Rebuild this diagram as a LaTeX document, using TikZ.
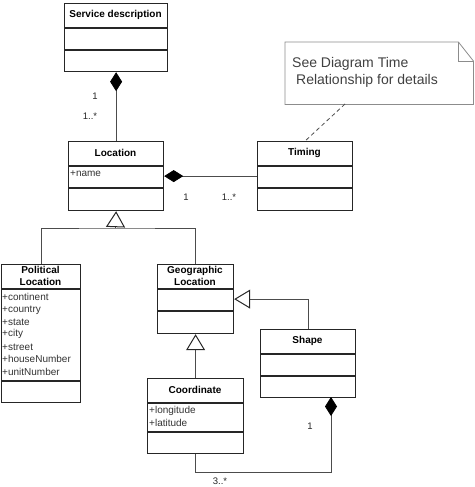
\documentclass[tikz,border=0pt]{standalone}
\usepackage{fontspec}
\setmainfont{Liberation Sans}
\usetikzlibrary{arrows.meta,calc}
\begin{document}
\begin{tikzpicture}[x=1pt,y=-1pt,
  cls/.style={draw=black!85,line width=1.2pt,inner sep=0pt,anchor=north west},
  cline/.style={draw=black!85,line width=1.1pt},
  ttl/.style={font=\fontsize{10}{12}\selectfont\bfseries,inner sep=0pt,align=center},
  attr/.style={font=\fontsize{10}{12}\selectfont,text=black!80,inner sep=0pt,anchor=west},
  mult/.style={font=\fontsize{9.5}{11}\selectfont,inner sep=0pt,text=black!85},
  conn/.style={draw=black!70,line width=0.8pt},
  comp/.style={conn,-{Diamond[length=19pt,width=12pt,fill=black,color=black]}},
  gen/.style={conn,-{Triangle[open,length=16pt,width=19pt,fill=white,color=black!85,line width=1pt]}},
  notel/.style={draw=black!45,line width=0.8pt},
  notetxt/.style={font=\fontsize{14}{16}\selectfont,text=black!75,inner sep=0pt,anchor=west},
]
\useasboundingbox (0,0) rectangle (474,487);

% Service description
\node[cls,minimum width=103pt,minimum height=68pt] (sd) at (64,3) {};
\node[ttl] (sdt) at (115.5,15) {Service description};
\draw[cline] (64,28) -- (167,28);
\draw[cline] (64,50) -- (167,50);

% Location
\node[cls,minimum width=95pt,minimum height=69pt] (loc) at (68,141) {};
\node[ttl] (loct) at (115.5,153) {Location};
\draw[cline] (68,166) -- (163,166);
\draw[cline] (68,188) -- (163,188);
\node[attr] (loca) at (70,174) {+name};

% Timing
\node[cls,minimum width=95pt,minimum height=69pt] (ti) at (257,141) {};
\node[ttl] (tit) at (304.5,153) {Timing};
\draw[cline] (257,166) -- (352,166);
\draw[cline] (257,188) -- (352,188);

% Note
\node[inner sep=0pt,minimum width=188pt,minimum height=62pt,anchor=north west] (note) at (285,42) {};
\draw[notel] (note.south west) -- (note.north west) -- ($(note.north east)+(-15,0)$) -- ($(note.north east)+(0,19)$) -- (note.south east) -- cycle;
\draw[notel] ($(note.north east)+(-15,0)$) -- ($(note.north east)+(-15,19)$) -- ($(note.north east)+(0,19)$);
\node[notetxt] (n1) at (292,64) {See Diagram Time};
\node[notetxt] (n2) at (296,81) {Relationship for details};
\coordinate (na) at (345,104);
\draw[conn,dashed,dash pattern=on 4pt off 3pt] (na) -- (ti.north);

% Political Location
\node[cls,minimum width=79pt,minimum height=138pt] (pl) at (1,264) {};
\node[ttl] (plt) at (40.5,276) {Political\\Location};
\draw[cline] (1,289) -- (80,289);
\draw[cline] (1,381) -- (80,381);
\node[attr] (pa1) at (2,297) {+continent};
\node[attr] (pa2) at (2,310) {+country};
\node[attr] (pa3) at (2,322) {+state};
\node[attr] (pa4) at (2,334) {+city};
\node[attr] (pa5) at (2,347) {+street};
\node[attr] (pa6) at (2,359) {+houseNumber};
\node[attr] (pa7) at (2,372) {+unitNumber};

% Geographic Location
\node[cls,minimum width=76pt,minimum height=69pt] (gl) at (157,264) {};
\node[ttl] (glt) at (195,276) {Geographic\\Location};
\draw[cline] (157,289) -- (233,289);
\draw[cline] (157,311) -- (233,311);

% Shape
\node[cls,minimum width=95pt,minimum height=68pt] (sh) at (260,329) {};
\node[ttl] (sht) at (307.5,341) {Shape};
\draw[cline] (260,354) -- (355,354);
\draw[cline] (260,376) -- (355,376);

% Coordinate
\node[cls,minimum width=96pt,minimum height=75pt] (co) at (147,378) {};
\node[ttl] (cot) at (195,390) {Coordinate};
\draw[cline] (147,403) -- (243,403);
\draw[cline] (147,432) -- (243,432);
\node[attr] (ca1) at (149,411) {+longitude};
\node[attr] (ca2) at (149,423) {+latitude};

% Connectors
\draw[comp] (loc.north) -- (sd.south);
\node[mult] (m1) at (95,96) {1};
\node[mult] (m2) at (90,116) {1..*};

\draw[comp] (ti.west) -- (loc.east);
\node[mult] (m3) at (186,197) {1};
\node[mult] (m4) at (229,197) {1..*};

\coordinate (gj) at (115.5,228);
\draw[conn] (pl.north) |- (gj) -| (gl.north);
\draw[gen] (gj) -- (loc.south);

\draw[gen] (sh.north) |- (gl.east);
\draw[gen] (co.north) -- (gl.south);

\coordinate (shd) at (331,397);
\coordinate (bend) at (331,472);
\draw[comp] (co.south) |- (bend) -- (shd);
\node[mult] (m5) at (310,426) {1};
\node[mult] (m6) at (220,481) {3..*};
\end{tikzpicture}
\end{document}
